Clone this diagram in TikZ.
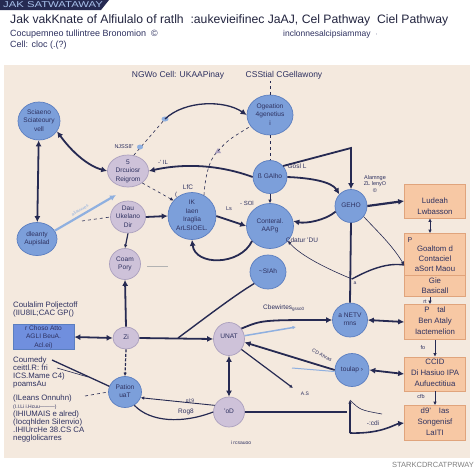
\documentclass[tikz,border=0pt]{standalone}
\usepackage{fontspec}
\setmainfont{Liberation Sans}
\usetikzlibrary{arrows.meta,shapes.geometric}
\definecolor{bg}{HTML}{F4E9DE}
\definecolor{cblue}{HTML}{7C9FDA}
\definecolor{cblueD}{HTML}{5B7EC0}
\definecolor{clav}{HTML}{CEC2D9}
\definecolor{clavD}{HTML}{ABA0BE}
\definecolor{corg}{HTML}{F7C8A4}
\definecolor{corgD}{HTML}{E0A47C}
\definecolor{navy}{HTML}{262A52}
\definecolor{txt}{HTML}{2E3160}
\definecolor{lb}{HTML}{8FB0E0}
\definecolor{ttl}{HTML}{22243F}
\definecolor{bantxt}{HTML}{A9C2EC}
\newcommand\tb[2][-1.6pt]{\makebox[0pt]{\raisebox{#1}[0pt][0pt]{\begin{tabular}{@{}c@{}}#2\end{tabular}}}}
\tikzset{
 bn/.style={ellipse, fill=cblue, draw=cblueD, line width=0.7pt, inner sep=0pt, text=txt, font=\fontsize{6.6}{8.5}\selectfont},
 ln/.style={ellipse, fill=clav, draw=clavD, line width=0.7pt, inner sep=0pt, text=txt, font=\fontsize{6.6}{8.5}\selectfont},
 ob/.style={rectangle, fill=corg, draw=corgD, line width=0.7pt, minimum width=61pt, inner sep=0pt, text=txt, font=\fontsize{7.8}{11}\selectfont},
 thk/.style={draw=navy, line width=1.8pt},
 thn/.style={draw=navy, line width=0.6pt},
 arr/.style={-{Latex[length=6pt,width=6pt]}},
 arrs/.style={-{Latex[length=3.5pt,width=3.5pt]}},
 arr2/.style={{Latex[length=6pt,width=6pt]}-{Latex[length=6pt,width=6pt]}},
 arr2s/.style={{Latex[length=3.5pt,width=3.5pt]}-{Latex[length=3.5pt,width=3.5pt]}},
 lbl/.style={text=txt, font=\fontsize{6}{7}\selectfont, inner sep=0pt},
 ltx/.style={text=txt, font=\fontsize{7.8}{8}\selectfont, inner sep=0pt, align=left, anchor=north west},
}
\begin{document}
\begin{tikzpicture}[x=1pt,y=-1pt]
\useasboundingbox (0,0) rectangle (474,474);
\fill[white] (0,0) rectangle (474,474);
\fill[bg] (4,65) rectangle (470,458);
% banner and titles
\fill[navy] (0,0) -- (109,0) -- (101,10) -- (0,10) -- cycle;
\node[font=\fontsize{8.5}{9}\selectfont, text=bantxt, anchor=west, inner sep=0pt] (ban) at (3,4.8) {\scalebox{1.33}[1]{JAK SATWATAWAY}};
\node[anchor=west, font=\fontsize{12.2}{13}\selectfont, text=ttl, inner sep=0pt] (title) at (10,20) {Jak vakKnate of Alfiulalo of ratlh \ :aukevieifinec JaAJ, Cel Pathway \ Ciel Pathway};
\node[anchor=west, font=\fontsize{9}{10}\selectfont, text=txt, inner sep=0pt] (sub1) at (10,34) {Cocupemneo tullintree Bronomion \ ©};
\node[anchor=west, font=\fontsize{9}{10}\selectfont, text=txt, inner sep=0pt] (sub2) at (10,45) {Cell: cloc (.(?)};
\node[anchor=west, font=\fontsize{8.5}{9}\selectfont, text=txt, inner sep=0pt] (sub3) at (283,34) {inclonnesalcipsiammay \ $\cdot$};
\node[font=\fontsize{8.5}{9}\selectfont, text=txt, inner sep=0pt] (h1) at (178,75) {NGWo Cell: UKAAPinay};
\node[font=\fontsize{8.5}{9}\selectfont, text=txt, inner sep=0pt] (h2) at (284,75) {CSStial CGellawony};
\node[font=\fontsize{7.5}{8}\selectfont, text=gray, inner sep=0pt] (foot) at (433,465) {STARKCDRCATPRWAY};

% blue nodes
\node[bn, minimum width=42pt, minimum height=38pt] (n1) at (39,121) {\tb{Sciaeno\\Sciateoury\\vell}};
\node[bn, minimum width=40pt, minimum height=33pt] (n2) at (37,239) {\tb{dleanty\\Aupislad}};
\node[bn, minimum width=46pt, minimum height=40pt] (n3) at (270,115) {\tb{Ogeation\\4genetius\\i}};
\node[bn, minimum width=34pt, minimum height=33pt] (n4) at (270,177) {\tb{\ss\ GAlho}};
\node[bn, minimum width=47pt, minimum height=45pt] (n5) at (270,226) {\tb{Conteral.\\AAPg}};
\node[bn, minimum width=36pt, minimum height=34pt] (n6) at (268,272) {\tb{\textasciitilde SIAh}};
\node[bn, minimum width=32pt, minimum height=33pt] (n7) at (351,206) {\tb{GEHO}};
\node[bn, minimum width=48pt, minimum height=47pt] (n8) at (192,216) {\tb{IK\\Iaen\\Iraglia\\ArLSIOEL.}};
\node[bn, minimum width=35pt, minimum height=34pt] (n9) at (350,320) {\tb{a NETV\\rnns}};
\node[bn, minimum width=34pt, minimum height=33pt] (n10) at (352,370) {\tb{toulap ›}};
\node[bn, minimum width=33pt, minimum height=31pt] (n11) at (125,392) {\tb{Pation\\uaT}};
% lavender nodes
\node[ln, minimum width=41pt, minimum height=32pt] (n12) at (128,171) {\tb{5\\Drcuiosr\\Reigrom}};
\node[ln, minimum width=35pt, minimum height=32pt] (n13) at (128,217) {\tb{Dau\\Ukelano\\Dir}};
\node[ln, minimum width=31pt, minimum height=31pt] (n14) at (125,264) {\tb{Coam\\Pory}};
\node[ln, minimum width=26pt, minimum height=22pt] (n15) at (126,338) {\tb{Zi}};
\node[ln, minimum width=31pt, minimum height=33pt] (n16) at (229,339) {\tb[0pt]{UNAT}};
\node[ln, minimum width=31pt, minimum height=30pt] (n17) at (229,412) {\tb{'oD}};
% orange boxes
\node[ob, minimum height=34pt] (bA) at (435,201) {\tb[-8pt]{Ludeah\\Lwbasson}};
\node[ob, minimum height=63pt, font=\fontsize{7.8}{10}\selectfont] (bB) at (435,265) {\tb[-7.6pt]{Goaltom d\\Contaciel\\aSort Maou\\[2pt]Gie\\Basicall}};
\node[ob, minimum height=35pt] (bC) at (435,322) {\tb{P\quad tal\\Ben Ataly\\Iactemelion}};
\node[ob, minimum height=34pt] (bD) at (435,374) {\tb{CCID\\Di Hasiuo IPA\\Aufuectitiua}};
\node[ob, minimum height=35pt] (bE) at (435,423) {\tb{d9'\quad Ias\\Songenisf\\LaITI}};
\draw[corgD, line width=0.7pt] (bB.west |- 0,275) -- (bB.east |- 0,275);
\node[lbl, font=\fontsize{7}{8}\selectfont] (bBp) at (410,240) {P};
% left box
\node[rectangle, fill=cblue!90!blue, draw=cblueD, line width=0.7pt, minimum width=61pt, minimum height=25pt, inner sep=0pt, text=txt, font=\fontsize{6.6}{8.5}\selectfont] (lbox) at (43.5,337) {\tb{r Choso Atto\\AGLI BeuA.\\Acl.ei)}};

% left texts
\node[ltx] (t1) at (13,302) {Coulalim Poljectoff\\(IIU8IL;CAC GP()};
\node[ltx] (t2) at (13,357) {Coumedy\\ceittl.R: fri\\ICS.Mame C4)\\poamsAu};
\node[ltx] (t3) at (13,395) {(ILeans Onnuhn)\\{\fontsize{5}{7}\selectfont (I.I.Li i.Hcuu---------)}\\(IHIUMAIS e alred)\\(Iocqhlden SiIenvio)\\.IHIUrcHe 38.CS CA\\negglolicarres};

% coordinates
\coordinate (blob) at (165,119);
\coordinate (blob2) at (140,147);
\coordinate (lbt) at (116,195);
\coordinate (d1) at (82,221);
\coordinate (c7) at (351,148);
\coordinate (j1) at (352,279);
\coordinate (j2) at (178,338);
\coordinate (t3top) at (270,81);
\coordinate (tri) at (218,151);
\coordinate (cm1) at (52,360);
\coordinate (cm2) at (57,368);
\coordinate (cm3) at (88,377);
\coordinate (cm4) at (85,396);
\coordinate (g1) at (147,266);
\coordinate (g2) at (168,266);
\coordinate (lw) at (296,327);
\coordinate (cd1) at (293,388);
\coordinate (fl) at (292,368);
\coordinate (k1) at (347,412);
\coordinate (k2) at (350,400);
\coordinate (k3) at (350,433);
\coordinate (k4) at (382,414);

% connectors
\draw[thk, arr2] (n1) -- (n2);
\draw[thk, arr2] (n1.-30) .. controls (72,152) and (88,166) .. (n12.west);
\draw[lb, line width=2.2pt, arr] (n2.25) -- (lbt);
\node[lbl, text=lb, font=\fontsize{4.5}{5}\selectfont, rotate=30] (al) at (80,210) {aliauxxes};
\draw[thn, dashed] (d1) -- (n13.west);
\draw[thn, dashed] (n12.70) -- (blob);
\fill[lb] (blob) ellipse (3.5pt and 2.5pt);
\fill[lb] (blob2) ellipse (3pt and 2.5pt);
\draw[navy, line width=1.3pt, arr] (blob) .. controls (185,100) and (225,100) .. (n3.west);
\draw[thk, arr] (n4.west) .. controls (220,165) and (185,163) .. (n12.east);
\draw[thk, arr] (n4.east) .. controls (312,178) and (332,182) .. (n7.135);
\draw[thk, arr] (n4.40) -- (c7) -- (n7.north);
\draw[thn, dashed] (n3.south) -- (n4.north);
\draw[thn, dashed] (n3.north) -- (t3top);
\draw[navy, line width=1pt, arrs] (n4.south) -- (n5.north);
\draw[thk, arr] (n8.east) -- (n5.west);
\draw[thk, arr] (n5.220) .. controls (240,266) and (195,266) .. (n8.south);
\draw[thk, arr] (n7.200) .. controls (326,220) and (306,224) .. (n5.12);
\draw[navy, line width=2.2pt, arr] (n7.east) -- (bA.west);
\draw[navy, line width=1pt, arr2s] ([xshift=-5pt]bA.south) -- ([xshift=-5pt]bB.north);
\draw[thk] (n7.south) -- (n9.north);
\draw[thn, arrs] (n7.-40) .. controls (378,232) and (392,245) .. (bB.west);
\draw[navy, line width=1.4pt] (bB.west) .. controls (385,262) and (365,272) .. (j1);
\draw[thn, arrs] (j1) .. controls (325,268) and (300,255) .. (n5.-40);
\node[lbl, font=\fontsize{5}{6}\selectfont] (ja) at (355,283) {a};
\draw[thn, dashed, arrs] (n12.-40) -- (n8.140);
\draw[thn, dashed] (n8.60) .. controls (205,180) and (208,160) .. (tri);
\fill[clavD] (tri) ++(0,-3) -- ++(3,5) -- ++(-6,0) -- cycle;
\draw[thn, dashed] (tri) .. controls (228,140) .. (n3.210);
\draw[thk, arr] (n13.east) -- (n8.west);
\draw[navy, line width=1.2pt, arrs] (n13.south) -- (n14.north);
\draw[thk, arr] (n15.north) -- (n14.south);
\draw[thk, arr2] (lbox.east) -- (n15.west);
\draw[thk, arr] (n15.east) -- (n16.west);
\draw[navy, line width=1.4pt] (j2) .. controls (205,318) and (235,295) .. (n6.220);
\draw[navy, line width=1.2pt, dash pattern=on 3pt off 1.5pt, arrs] (n15.south) -- (n11.north);
\draw[thk, arr2] (n16.south) -- (n17.north);
\draw[navy, line width=0.9pt, arrs] (n17.155) -- (n11.-20);
\draw[navy, line width=1.2pt] (n11.-55) .. controls (150,422) and (182,424) .. (n17.west);
\draw[navy, line width=1.3pt] (cm1) -- (n11.160);
\draw[thn] (cm2) -- (cm3);
\draw[thn, dashed] (cm4) -- (n11.west);
\draw[gray!60, line width=0.6pt] (g1) -- (g2);
\draw[thk, arr] (n16.40) .. controls (262,320) .. (n9.west);
\draw[lb, line width=1.5pt, arrs] (n16.12) -- (lw);
\draw[thk, arr] (n10.west) -- (n16.-12);
\draw[navy, line width=1.2pt, arrs] (n16.-40) -- (cd1);
\draw[lb, line width=1pt] (fl) -- (n10.185);
\draw[navy, line width=1.2pt] (n17.east) -- (k1);
\draw[navy, line width=1.6pt, arrs] (k3) -- (k2);
\draw[navy, line width=1.6pt, arr] (k3) .. controls (382,434) and (395,424) .. (bE.west);
\draw[thn] (k2) .. controls (360,410) .. (k4);
\draw[thk, arr2] (n9.east) -- (bC.west);
\draw[thk, arr2] (n10.east) -- (bD.west);
\draw[thn, arrs] ([xshift=-5pt]bB.south) -- ([xshift=-5pt]bC.north);
\draw[navy, line width=0.9pt, arrs] (bC.south) -- (bD.north);
\draw[navy, line width=0.9pt, arrs] (bD.south) -- (bE.north);

% small labels
\node[lbl, font=\fontsize{5.5}{6}\selectfont] (la1) at (124,147) {NJSS8''};
\node[lbl] (la2) at (163,162) {-' IL};
\node[lbl, font=\fontsize{6.5}{7}\selectfont] (la3) at (188,187) {LfC};
\node[lbl] (la4) at (176,195) {(};
\node[lbl, font=\fontsize{6.5}{7}\selectfont] (la5) at (297,166) {Gosl L};
\node[lbl, font=\fontsize{5.5}{6.5}\selectfont, align=center] (la6) at (375,184) {Alamnge\\ZL lenyO\\©};
\node[lbl, font=\fontsize{6.5}{7}\selectfont] (la7) at (302,240) {Cdatur 'DU};
\node[lbl, font=\fontsize{6.5}{7}\selectfont] (la8) at (284,308) {Cbewirtes$_{\mathrm{gsso0}}$};
\node[lbl, font=\fontsize{5}{6}\selectfont, rotate=-28] (la9) at (322,355) {CD Ahras};
\node[lbl, font=\fontsize{5}{6}\selectfont] (la10) at (305,394) {A.S};
\node[lbl, font=\fontsize{6.5}{7}\selectfont] (la11) at (186,412) {Rog8};
\node[lbl, font=\fontsize{5}{6}\selectfont] (la12) at (190,401) {gl:9};
\node[lbl, font=\fontsize{6.5}{7}\selectfont] (la13) at (373,423) {-:cdi};
\node[lbl, font=\fontsize{5.5}{6}\selectfont] (la14) at (423,348) {fo};
\node[lbl, font=\fontsize{5.5}{6}\selectfont] (la15) at (425,302) {rt};
\node[lbl, font=\fontsize{5.5}{6}\selectfont] (la16) at (421,397) {cfb};
\node[lbl, font=\fontsize{5}{6}\selectfont] (la17) at (241,443) {i rcsauoo};
\node[lbl, font=\fontsize{5.5}{6}\selectfont] (la18) at (229,209) {Ls};
\node[lbl, font=\fontsize{6}{6}\selectfont] (la19) at (247,203) {- SOl};
\end{tikzpicture}
\end{document}
